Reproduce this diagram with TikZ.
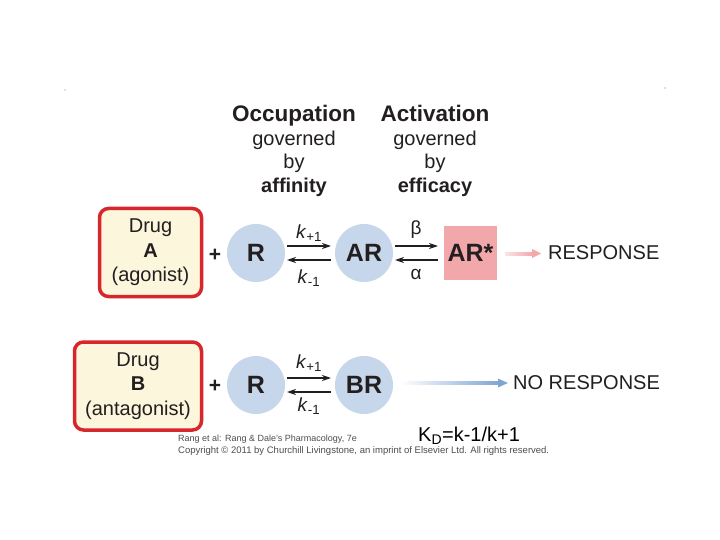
\documentclass[tikz,border=0pt]{standalone}
\usepackage{fontspec}
\setmainfont{Liberation Sans}
\usetikzlibrary{arrows.meta}
\definecolor{cream}{HTML}{FBF6DC}
\definecolor{dred}{HTML}{D7262C}
\definecolor{rblue}{HTML}{C6D7EC}
\definecolor{pinkf}{HTML}{F2A7AB}
\definecolor{arblue}{HTML}{7FA6D3}
\definecolor{txt}{HTML}{231F20}
\tikzset{
 drugbox/.style={draw=dred,line width=3.5pt,fill=cream,rounded corners=9pt,align=center,font=\fontsize{20}{24.5}\selectfont,text=txt},
 rec/.style={circle,fill=rblue,minimum size=58pt,inner sep=0pt,font=\fontsize{25}{24}\selectfont\bfseries,text=txt},
 rate/.style={-{Stealth[length=9pt,width=6pt]},line width=1.3pt,draw=txt},
 lab/.style={font=\fontsize{19}{18}\selectfont,text=txt,inner sep=0pt},
 head/.style={align=center,text=txt,font=\fontsize{20}{23.5}\selectfont},
}
\begin{document}
\begin{tikzpicture}[x=1pt,y=-1pt]
\useasboundingbox[fill=white] (0,0) rectangle (720,540);
\fill[gray] (65,90) circle (0.6) (665,88) circle (0.6);
\node[head] (h1) at (294,151) {{\fontsize{22.5}{23.5}\selectfont\bfseries Occupation}\\governed\\by\\\textbf{affinity}};
\node[head] (h2) at (435,151) {{\fontsize{22.5}{23.5}\selectfont\bfseries Activation}\\governed\\by\\\textbf{efficacy}};
% row A
\node[drugbox,minimum width=102pt,minimum height=88pt] (A) at (150.5,252.5) {Drug\\\textbf{A}\\(agonist)};
\node[lab,font=\fontsize{21}{18}\selectfont\bfseries] (p1) at (215,255) {+};
\node[rec] (R1) at (256,253) {R};
\node[rec] (AR) at (364,253) {AR};
\node[fill=pinkf,minimum width=53pt,minimum height=54pt,font=\fontsize{25}{24}\selectfont\bfseries,text=txt] (ARs) at (470.5,253) {AR*};
\coordinate (a1s) at (287,246); \coordinate (a1e) at (331,246);
\coordinate (b1s) at (331,260); \coordinate (b1e) at (287,260);
\draw[rate] (a1s) -- (a1e);
\draw[rate] (b1s) -- (b1e);
\node[lab] (k1) at (309,233) {\textit{k}\textsubscript{+1}};
\node[lab] (km1) at (309,278) {\textit{k}\textsubscript{-1}};
\coordinate (c1s) at (395,246); \coordinate (c1e) at (438,246);
\coordinate (d1s) at (438,260); \coordinate (d1e) at (395,260);
\draw[rate] (c1s) -- (c1e);
\draw[rate] (d1s) -- (d1e);
\node[lab] (be) at (416,230) {β};
\node[lab] (al) at (416,274) {α};
\node[lab,anchor=west,font=\fontsize{20}{18}\selectfont] (resp) at (548,253) {RESPONSE};
\shade[left color=pinkf!30,right color=pinkf] (505,252) rectangle (533,255);
\fill[pinkf] (532,249) -- (541,253.5) -- (532,258) -- cycle;
% row B
\node[drugbox,minimum width=127pt,minimum height=88pt] (B) at (138,386) {Drug\\\textbf{B}\\(antagonist)};
\node[lab,font=\fontsize{21}{18}\selectfont\bfseries] (p2) at (215,386) {+};
\node[rec] (R2) at (256,385) {R};
\node[rec] (BR) at (364,385) {BR};
\coordinate (a2s) at (287,378); \coordinate (a2e) at (331,378);
\coordinate (b2s) at (331,392); \coordinate (b2e) at (287,392);
\draw[rate] (a2s) -- (a2e);
\draw[rate] (b2s) -- (b2e);
\node[lab] (k2) at (309,363) {\textit{k}\textsubscript{+1}};
\node[lab] (km2) at (309,406) {\textit{k}\textsubscript{-1}};
\shade[left color=white,right color=arblue] (400,381.5) rectangle (499,384.5);
\fill[arblue] (498,378.5) -- (508,383) -- (498,387.5) -- cycle;
\node[lab,anchor=west,font=\fontsize{20}{18}\selectfont] (nresp) at (513,383) {NO RESPONSE};
% footer
\node[anchor=west,inner sep=0pt,font=\fontsize{9}{8}\selectfont,text=txt!80] (c1) at (178,439) {Rang et al: Rang \& Dale's Pharmacology, 7e};
\node[anchor=west,inner sep=0pt,font=\fontsize{9.5}{8}\selectfont,text=txt!80] (c2) at (178,451) {Copyright \textcopyright{} 2011 by Churchill Livingstone, an imprint of Elsevier Ltd. All rights reserved.};
\node[anchor=west,inner sep=0pt,font=\fontsize{20}{18}\selectfont] (kd) at (418,436) {K\textsubscript{D}=k-1/k+1};
\end{tikzpicture}
\end{document}
